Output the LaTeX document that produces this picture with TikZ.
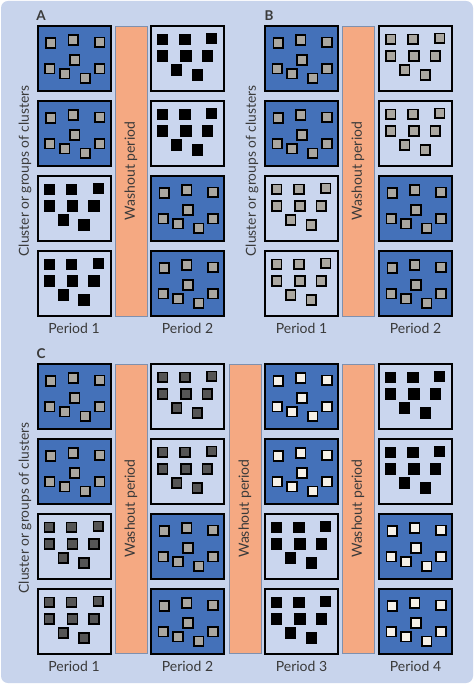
\documentclass[tikz,border=0pt]{standalone}
\usepackage{fontspec}
\setmainfont{Lato}
\definecolor{bgblue}{HTML}{C8D4EC}
\definecolor{lightfill}{HTML}{CAD6EE}
\definecolor{darkfill}{HTML}{4471B9}
\definecolor{barfill}{HTML}{F5A982}
\definecolor{barline}{HTML}{7F90AE}
\definecolor{sqgray}{HTML}{AAA7A0}
\definecolor{sqdark}{HTML}{555555}
\definecolor{sqwhite}{HTML}{F6F1E8}
\definecolor{txt}{HTML}{3A3A3A}
\newcommand\sqpat[2]{% #1 pattern, #2 fill
  \ifnum#1=1
    \foreach \a/\b in {13.3/17,35.6/14,62/16.3,37/34,12.3/42.7,27/47.7,47.6/52.3,62/42.7}
      {\filldraw[fill=#2,draw=black,line width=1.6] (\a-4.8,\b-4.8) rectangle ++(9.6,9.6);}
  \else
    \foreach \a/\b in {11.7/13.3,34/13.3,60.7/12.3,11.7/30,35/30,56.3/30,25.7/44,46.3/49}
      {\filldraw[fill=#2,draw=black,line width=1.6] (\a-4.9,\b-4.9) rectangle ++(9.8,9.8);}
  \fi}
\newcommand\dbox[3]{% x, y, square colour
  \begin{scope}[shift={(#1,#2)}]
    \fill[darkfill] (0,0) rectangle (73,65);
    \sqpat{1}{#3}
    \draw[line width=2] (0,0) rectangle (73,65);
  \end{scope}}
\newcommand\lbox[3]{%
  \begin{scope}[shift={(#1,#2)}]
    \fill[lightfill] (0,0) rectangle (73,65);
    \sqpat{2}{#3}
    \draw[line width=2] (0,0) rectangle (73,65);
  \end{scope}}
\tikzset{
  washbar/.style={fill=barfill,draw=barline,line width=0.8},
  washtext/.style={rotate=90,text=txt,font=\fontsize{14}{16}\selectfont},
  pertext/.style={text=txt,font=\fontsize{14}{16}\selectfont},
  axtext/.style={rotate=90,text=txt,font=\fontsize{13.8}{16}\selectfont},
  lettertext/.style={text=txt,font=\fontsize{13.5}{16}\selectfont\bfseries}
}
\begin{document}
\begin{tikzpicture}[x=1pt,y=-1pt]
\useasboundingbox (0,0) rectangle (474,684);
\fill[white] (0,0) rectangle (474,684);
\fill[bgblue,rounded corners=7] (1,1) rectangle (473,683);
% ---------- Panel A
\node[lettertext] (la) at (41,16) {A};
\node[axtext] (ya) at (25,171) {Cluster or groups of clusters};
\dbox{37.5}{26}{sqgray}
\dbox{37.5}{101}{sqgray}
\lbox{37.5}{176}{black}
\lbox{37.5}{251}{black}
\lbox{151}{26}{black}
\lbox{151}{101}{black}
\dbox{151}{176}{sqgray}
\dbox{151}{251}{sqgray}
\draw[washbar] (115,26) rectangle (147,316);
\node[washtext] (wa) at (131,171) {Washout period};
\node[pertext] (pa1) at (74,328) {Period 1};
\node[pertext] (pa2) at (187.5,328) {Period 2};
% ---------- Panel B
\node[lettertext] (lb) at (269,16) {B};
\node[axtext] (yb) at (252,171) {Cluster or groups of clusters};
\dbox{265}{26}{sqgray}
\dbox{265}{101}{sqgray}
\lbox{265}{176}{sqgray}
\lbox{265}{251}{sqgray}
\lbox{379}{26}{sqgray}
\lbox{379}{101}{sqgray}
\dbox{379}{176}{sqgray}
\dbox{379}{251}{sqgray}
\draw[washbar] (342,26) rectangle (374,316);
\node[washtext] (wb) at (358,171) {Washout period};
\node[pertext] (pb1) at (301.5,328) {Period 1};
\node[pertext] (pb2) at (415.5,328) {Period 2};
% ---------- Panel C
\node[lettertext] (lc) at (41,354) {C};
\node[axtext] (yc) at (25,508) {Cluster or groups of clusters};
\dbox{37.5}{364}{sqgray}
\dbox{37.5}{439}{sqgray}
\lbox{37.5}{514}{sqdark}
\lbox{37.5}{589}{sqdark}
\lbox{151}{364}{sqdark}
\lbox{151}{439}{sqdark}
\dbox{151}{514}{sqgray}
\dbox{151}{589}{sqgray}
\dbox{265}{364}{sqwhite}
\dbox{265}{439}{sqwhite}
\lbox{265}{514}{black}
\lbox{265}{589}{black}
\lbox{379}{364}{black}
\lbox{379}{439}{black}
\dbox{379}{514}{sqwhite}
\dbox{379}{589}{sqwhite}
\draw[washbar] (115,364) rectangle (147,653);
\draw[washbar] (229,364) rectangle (261,653);
\draw[washbar] (342,364) rectangle (374,653);
\node[washtext] (wc1) at (131,508.5) {Washout period};
\node[washtext] (wc2) at (245,508.5) {Washout period};
\node[washtext] (wc3) at (358,508.5) {Washout period};
\node[pertext] (pc1) at (74,666) {Period 1};
\node[pertext] (pc2) at (187.5,666) {Period 2};
\node[pertext] (pc3) at (301.5,666) {Period 3};
\node[pertext] (pc4) at (415.5,666) {Period 4};
\end{tikzpicture}
\end{document}
